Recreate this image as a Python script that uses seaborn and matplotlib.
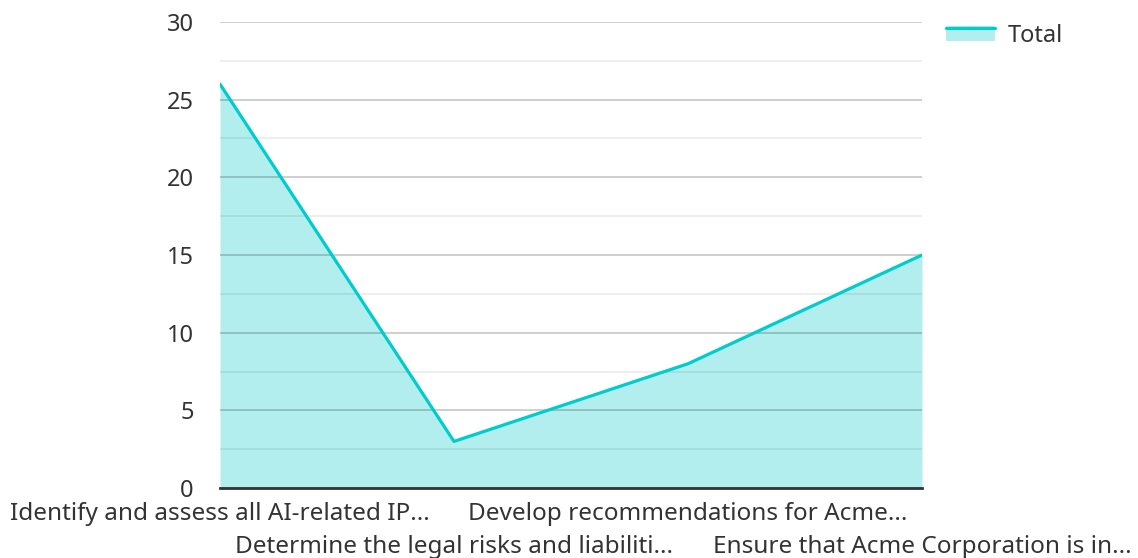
import numpy as np
import pandas as pd
import matplotlib
matplotlib.use("Agg")
import matplotlib.pyplot as plt
import seaborn as sns
from matplotlib.lines import Line2D
from matplotlib.patches import Patch, Rectangle
from matplotlib.legend_handler import HandlerBase
from matplotlib.ticker import MultipleLocator

# chart data
categories = [
    "Identify and assess all AI-related IP...",
    "Determine the legal risks and liabiliti...",
    "Develop recommendations for Acme...",
    "Ensure that Acme Corporation is in...",
]
totals = [26, 3, 8, 15]
series_name = "Total"

line_color = "#00CCCC"
fill_color = "#B2EEEE"


class AreaHandler(HandlerBase):
    # filled box with the line along its top edge
    def create_artists(self, legend, orig_handle, xdescent, ydescent, width, height, fontsize, trans):
        box = Rectangle((-xdescent, -ydescent), width, height, facecolor=fill_color,
                        edgecolor="none", transform=trans)
        top = -ydescent + height * 0.85
        ln = Line2D([-xdescent, -xdescent + width], [top, top], color=line_color,
                    linewidth=2.3, transform=trans)
        return [box, ln]


sns.set_style("white")
plt.rcParams['font.family'] = ['Noto Sans', 'DejaVu Sans']

df = pd.DataFrame({"pos": np.arange(len(categories)), "value": totals})

fig = plt.figure(figsize=(11.38, 5.58), dpi=100)
ax = fig.add_axes([0.1933, 0.1254, 0.6169, 0.8352])

ax.fill_between(df["pos"], df["value"], 0, color=fill_color, linewidth=0, zorder=2)
sns.lineplot(data=df, x="pos", y="value", color=line_color, linewidth=2.3, ax=ax, zorder=3)

ax.set_xlim(0, len(categories) - 1)
ax.set_ylim(0, 30)
ax.yaxis.set_major_locator(MultipleLocator(5))
ax.yaxis.set_minor_locator(MultipleLocator(2.5))
ax.set_axisbelow(False)
ax.grid(which="major", axis="y", color="black", alpha=0.22, linewidth=1.2)
ax.grid(which="minor", axis="y", color="black", alpha=0.08, linewidth=1.2)

ax.set_xticks(df["pos"])
ax.set_xticklabels(categories, fontsize=17.5, color="#333333")
ax.tick_params(axis="x", length=0, pad=10)
ax.tick_params(axis="y", which="both", length=0, pad=19, labelsize=17, labelcolor="#333333")
# alternate rows for long labels
for i, t in enumerate(ax.xaxis.get_major_ticks()):
    if i % 2 == 1:
        t.set_pad(10 + 24)
ax.set_xlabel("")
ax.set_ylabel("")

for s in ["top", "right", "left"]:
    ax.spines[s].set_visible(False)
ax.spines["bottom"].set_color("#333333")
ax.spines["bottom"].set_linewidth(2)
ax.spines["bottom"].set_zorder(4)

fig.legend([Patch()], [series_name], handler_map={Patch: AreaHandler()},
           loc="center left", bbox_to_anchor=(0.8125, 0.936),
           frameon=False, fontsize=17, handlelength=2.1, handleheight=0.65,
           handletextpad=0.5, labelcolor="#333333")

fig.savefig("out.png", dpi=100)
